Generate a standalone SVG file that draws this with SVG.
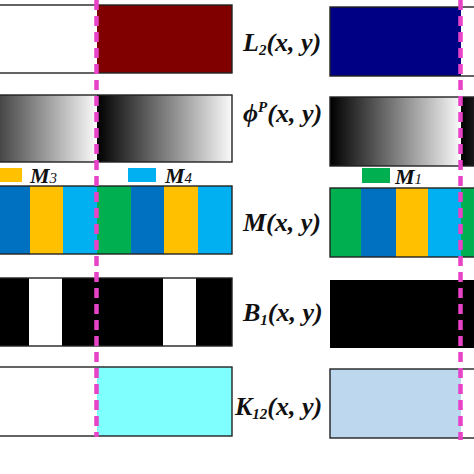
<svg xmlns="http://www.w3.org/2000/svg" width="474" height="474" viewBox="0 0 474 474">
<defs>
<linearGradient id="gl" gradientUnits="userSpaceOnUse" x1="97" y1="0" x2="232" y2="0" spreadMethod="repeat">
<stop offset="0" stop-color="#000"/><stop offset="1" stop-color="#fafafa"/>
</linearGradient>
<linearGradient id="gr" gradientUnits="userSpaceOnUse" x1="330" y1="0" x2="461" y2="0" spreadMethod="repeat">
<stop offset="0" stop-color="#000"/><stop offset="1" stop-color="#fafafa"/>
</linearGradient>
<style>
.bd{fill:none;stroke:#222;stroke-width:1.4}
.lb{font-family:"Liberation Serif","DejaVu Serif",serif;font-weight:bold;font-style:italic;font-size:26px;fill:#111}
.lg{font-family:"Liberation Serif","DejaVu Serif",serif;font-weight:bold;font-style:italic;font-size:22px;fill:#111}
.sub{font-size:15px}
.dash{stroke:#e843c6;stroke-width:4.5;stroke-dasharray:10,6;fill:none}
.g{fill:#00b050}.db{fill:#0070c0}.o{fill:#ffc000}.lbl{fill:#00b0f0}
</style>
</defs>
<rect width="474" height="474" fill="#fff"/>

<g id="row-L2">
<rect x="97" y="5" width="135" height="68" fill="#800000"/>
<rect x="-2" y="5" width="234" height="68" class="bd"/>
<rect x="330" y="7" width="131" height="69" fill="#000084"/>
<rect x="330" y="7" width="150" height="69" class="bd"/>
<text class="lb" x="243" y="51">L<tspan class="sub" dy="4">2</tspan><tspan dy="-4">(x, y)</tspan></text>
</g>

<g id="row-phi">
<rect x="-2" y="95" width="234" height="67" fill="url(#gl)"/>
<rect x="-2" y="95" width="234" height="67" class="bd"/>
<rect x="330" y="97" width="150" height="69" fill="url(#gr)"/>
<rect x="330" y="97" width="150" height="69" class="bd"/>
<text class="lb" x="243" y="122">ϕ<tspan class="sub" dy="-10">P</tspan><tspan dy="10">(x, y)</tspan></text>
</g>

<g id="legend">
<rect x="-2" y="168" width="24" height="14" class="o"/>
<text class="lg" x="30" y="183">M<tspan font-size="15px" font-weight="normal">3</tspan></text>
<rect x="128" y="168" width="28" height="14" class="lbl"/>
<text class="lg" x="165" y="183">M<tspan font-size="15px" font-weight="normal">4</tspan></text>
<rect x="362" y="168" width="28" height="15" class="g"/>
<text class="lg" x="395" y="184">M<tspan font-size="15px" font-weight="normal">1</tspan></text>
</g>

<g id="row-M">
<rect x="-2" y="186" width="32" height="68" class="db"/>
<rect x="30" y="186" width="33" height="68" class="o"/>
<rect x="63" y="186" width="34" height="68" class="lbl"/>
<rect x="97" y="186" width="34" height="68" class="g"/>
<rect x="131" y="186" width="33" height="68" class="db"/>
<rect x="164" y="186" width="34" height="68" class="o"/>
<rect x="198" y="186" width="34" height="68" class="lbl"/>
<rect x="-2" y="186" width="234" height="68" class="bd"/>
<rect x="330" y="188" width="31" height="69" class="g"/>
<rect x="361" y="188" width="35" height="69" class="db"/>
<rect x="396" y="188" width="32" height="69" class="o"/>
<rect x="428" y="188" width="33" height="69" class="lbl"/>
<rect x="461" y="188" width="20" height="69" class="g"/>
<rect x="330" y="188" width="150" height="69" class="bd"/>
<text class="lb" x="243" y="231">M(x, y)</text>
</g>

<g id="row-B1">
<rect x="-2" y="278" width="234" height="68" fill="#000"/>
<rect x="29" y="278" width="33" height="68" fill="#fff"/>
<rect x="163" y="278" width="33" height="68" fill="#fff"/>
<rect x="-2" y="278" width="234" height="68" class="bd"/>
<rect x="330" y="280" width="150" height="68" fill="#000"/>
<text class="lb" x="243" y="321">B<tspan class="sub" dy="4">1</tspan><tspan dy="-4">(x, y)</tspan></text>
</g>

<g id="row-K12">
<rect x="97" y="367" width="135" height="69" fill="#80ffff"/>
<rect x="-2" y="367" width="234" height="69" class="bd"/>
<rect x="330" y="369" width="131" height="69" fill="#bdd7ee"/>
<rect x="330" y="369" width="150" height="69" class="bd"/>
<text class="lb" x="235" y="415">K<tspan class="sub" dy="4">12</tspan><tspan dy="-4">(x, y)</tspan></text>
</g>

<g id="connectors">
<line class="dash" x1="96.5" y1="0" x2="96.5" y2="437"/>
<line class="dash" x1="460.5" y1="0" x2="460.5" y2="440"/>
</g>
</svg>
